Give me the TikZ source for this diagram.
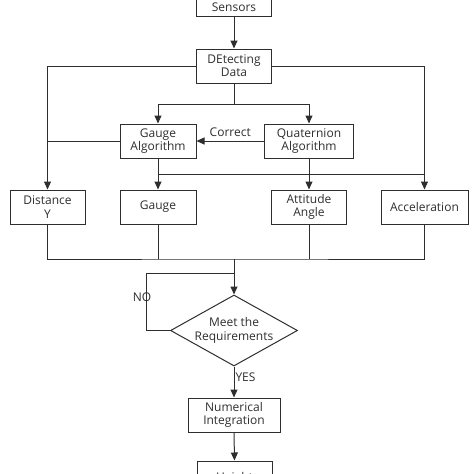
\documentclass[tikz,border=0pt]{standalone}
\usepackage{fontspec}
\setmainfont{Open Sans}
\usetikzlibrary{arrows.meta,shapes.geometric}
\definecolor{ink}{HTML}{2E2E2E}

\begin{document}
\begin{tikzpicture}[x=1pt,y=-1pt,line width=1pt,draw=ink,text=ink,
  font=\fontsize{12}{13.3}\selectfont,>={Triangle[length=8pt,width=7pt]}]
\tikzstyle{box} = [draw,rectangle,align=center,minimum height=34,inner sep=1pt]
\tikzstyle{decide} = [draw,diamond,aspect=1.8,align=center,minimum width=127,minimum height=71,inner sep=0pt]
\tikzstyle{tag} = [inner sep=1pt]
\useasboundingbox (0,0) rectangle (474,474);

\node[box,minimum height=18,minimum width=75] (sensors) at (234,7) {Sensors};
\node[box,minimum width=75] (detect) at (234,66) {DEtecting\\Data};
\node[box,minimum width=76] (galg) at (158,141) {Gauge\\Algorithm};
\node[box,minimum width=89] (qalg) at (309,141) {Quaternion\\Algorithm};
\node[box,minimum width=75] (dist) at (47.5,207) {Distance\\Y};
\node[box,minimum width=76] (gauge) at (158,207) {Gauge};
\node[box,minimum width=75] (att) at (309,207) {Attitude\\Angle};
\node[box,minimum width=87] (acc) at (424.5,207) {Acceleration};
\node[decide] (meet) at (234,330.5) {Meet the\\Requirements};
\node[box,minimum width=92] (num) at (234,415) {Numerical\\Integration};
\node[box,minimum width=75] (height) at (234.5,478) {Height};

\coordinate (split) at (234,104);
\coordinate (bus) at (158,174);
\coordinate (join) at (234,259);
\coordinate (back) at (234,273);

\draw[->] (sensors) -- (detect);
\draw[->] (detect.west) -| (dist.north);
\draw[->] (detect.east) -| (acc.north);
\draw (detect.south) -- (split);
\draw[->] (split) -| (galg.north);
\draw[->] (split) -| (qalg.north);
\draw[->] (qalg.west) -- node[tag,above=3pt] {Correct} (galg.east);
\draw (galg.west) -- (galg.west -| dist.north);
\draw[->] (galg.south) -- (gauge.north);
\draw[->] (qalg.south) -- (att.north);
\draw (bus) -- (bus -| acc.north);

\draw (dist.south) |- (join) -| (acc.south);
\draw (gauge.south) -- (gauge.south |- join);
\draw (att.south) -- (att.south |- join);
\draw[->] (join) -- (meet.north);
\draw (meet.west) -- ++(-24,0) |- (back);
\node[tag] at (142,297) {NO};
\draw[->] (meet.south) -- node[tag,right=0pt,pos=0.35] {YES} (num.north);
\draw[->] (num.south) -- (height.north);
\end{tikzpicture}
\end{document}
